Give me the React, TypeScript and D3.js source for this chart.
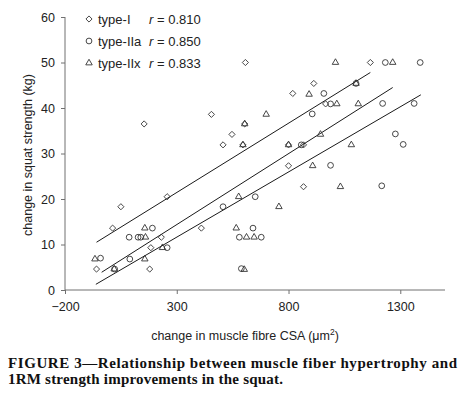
import React, { useRef, useEffect } from 'react';
import * as d3 from 'd3';

// type-I (diamonds)
const typeIX = [607, 154, 455, 604, 547, 507, 596, 257, 50, 13, 410, 231, 184, -59, 179, 913, 819, 966, 800, 867, 800, 867, 1166];
const typeIY = [50, 36.5, 38.6, 36.5, 34.2, 31.9, 31.9, 20.5, 18.3, 13.6, 13.6, 11.6, 9.3, 4.6, 4.6, 45.4, 43.2, 40.9, 31.9, 31.9, 27.3, 22.7, 50];

// type-IIa (circles)
const typeIIaX = [651, 507, 191, 641, 87, 127, 139, 580, 678, 257, -41, 90, 22, 589, 1233, 1389, 1102, 958, 988, 1221, 1362, 906, 1278, 857, 1313, 988, 1217];
const typeIIaY = [20.5, 18.3, 13.6, 13.6, 11.6, 11.6, 11.6, 11.6, 11.6, 9.3, 7.0, 6.8, 4.6, 4.7, 50, 50, 45.4, 43.2, 40.9, 41, 41, 38.7, 34.3, 31.9, 32, 27.4, 22.9];

// type-IIx (triangles)
const typeIIxX = [700, 604, 596, 577, 757, 157, 566, 160, 612, 646, 236, -66, 157, 20, 602, 1010, 1266, 1102, 892, 1016, 1112, 943, 800, 1081, 908, 1032];
const typeIIxY = [38.6, 36.5, 31.9, 20.5, 18.3, 13.6, 13.6, 11.6, 11.6, 11.6, 9.3, 6.8, 6.8, 4.6, 4.5, 50, 50, 45.4, 43, 40.9, 40.9, 34.2, 31.9, 31.9, 27.3, 22.7];

const seriesNames = ['type-I', 'type-IIa', 'type-IIx'];
const seriesR = ['0.810', '0.850', '0.833'];

// regression line ends: [type-I, type-IIa, type-IIx]
const fitX0 = [-59, -62, -36];
const fitY0 = [10.5, 1.25, 3.9];
const fitX1 = [1166, 1392, 1266];
const fitY1 = [47.8, 42.9, 44.5];

const xTicks = [-200, 300, 800, 1300];
const yTicks = [0, 10, 20, 30, 40, 50, 60];

const W = 474;
const H = 397;
const SANS = '"Liberation Sans", Arial, sans-serif';
const SERIF = '"Liberation Serif", "Times New Roman", serif';

const App: React.FC = () => {
  const svgRef = useRef<SVGSVGElement | null>(null);

  useEffect(() => {
    if (!svgRef.current) return;
    const svg = d3.select(svgRef.current);
    svg.selectAll('*').remove();

    const x = d3.scaleLinear().domain([-200, 1500]).range([65, 445]);
    const y = d3.scaleLinear().domain([0, 60]).range([290, 17]);

    const axisColor = '#707070';
    const ink = '#222';

    // axes
    const xAxis = svg.append('g')
      .attr('transform', `translate(0,${y(0)})`)
      .call(d3.axisBottom(x).tickValues(xTicks).tickSize(4).tickPadding(8).tickFormat(d => d3.format('')(d as number).replace('-', '\u2212')));
    xAxis.select('.domain').attr('stroke', axisColor).attr('d', `M${x(-200)},0H${x(1500)}`);
    xAxis.selectAll('.tick line').attr('stroke', axisColor);
    xAxis.selectAll('text').attr('fill', ink).attr('font-size', '12.5px').attr('font-family', SANS);

    const yAxis = svg.append('g')
      .attr('transform', `translate(${x(-200)},0)`)
      .call(d3.axisLeft(y).tickValues(yTicks).tickSize(4).tickPadding(6));
    yAxis.select('.domain').attr('stroke', axisColor).attr('d', `M0,${y(60)}V${y(0)}`);
    yAxis.selectAll('.tick line').attr('stroke', axisColor);
    yAxis.selectAll('text').attr('fill', ink).attr('font-size', '12.5px').attr('font-family', SANS);

    // axis titles
    const xt = svg.append('text')
      .attr('x', 245)
      .attr('y', 340)
      .attr('text-anchor', 'middle')
      .attr('fill', ink)
      .attr('font-size', '12.5px')
      .attr('font-family', SANS);
    xt.append('tspan').text('change in muscle fibre CSA (\u03bcm');
    xt.append('tspan').attr('font-size', '8.5px').attr('dy', -5).text('2');
    xt.append('tspan').attr('dy', 5).text(')');

    svg.append('text')
      .attr('transform', `translate(32,155) rotate(-90)`)
      .attr('text-anchor', 'middle')
      .attr('fill', ink)
      .attr('font-size', '12.5px')
      .attr('font-family', SANS)
      .text('change in squat strength (kg)');

    // regression lines
    seriesNames.forEach((_, i) => {
      svg.append('line')
        .attr('x1', x(fitX0[i]))
        .attr('y1', y(fitY0[i]))
        .attr('x2', x(fitX1[i]))
        .attr('y2', y(fitY1[i]))
        .attr('stroke', '#1a1a1a')
        .attr('stroke-width', 1);
    });

    // points
    const symbols = [
      d3.symbol().type(d3.symbolDiamond2).size(24),
      d3.symbol().type(d3.symbolCircle).size(26),
      d3.symbol().type(d3.symbolTriangle2).size(30),
    ];
    const xs = [typeIX, typeIIaX, typeIIxX];
    const ys = [typeIY, typeIIaY, typeIIxY];

    xs.forEach((xv, s) => {
      svg.append('g')
        .selectAll('path')
        .data(xv.map((v, i) => [v, ys[s][i]]))
        .enter()
        .append('path')
        .attr('transform', d => `translate(${x(d[0])},${y(d[1])})`)
        .attr('d', symbols[s]()!)
        .attr('fill', 'none')
        .attr('stroke', '#333')
        .attr('stroke-width', 0.9);
    });

    // legend
    const legend = svg.append('g').attr('transform', 'translate(89,19)');
    seriesNames.forEach((name, i) => {
      const row = legend.append('g').attr('transform', `translate(0,${i * 22})`);
      row.append('path')
        .attr('d', symbols[i]()!)
        .attr('fill', 'none')
        .attr('stroke', '#333')
        .attr('stroke-width', 0.9);
      row.append('text')
        .attr('x', 9)
        .attr('y', 4.5)
        .attr('fill', ink)
        .attr('font-size', '13px')
        .attr('font-family', SANS)
        .text(name);
      const r = row.append('text')
        .attr('x', 60)
        .attr('y', 4.5)
        .attr('fill', ink)
        .attr('font-size', '13px')
        .attr('font-family', SANS);
      r.append('tspan').attr('font-style', 'italic').text('r');
      r.append('tspan').text(` = ${seriesR[i]}`);
    });

    // caption
    svg.append('text')
      .attr('x', 8)
      .attr('y', 368)
      .attr('textLength', 449)
      .attr('lengthAdjust', 'spacing')
      .attr('fill', '#111')
      .attr('font-size', '15px')
      .attr('font-weight', 'bold')
      .attr('font-family', SERIF)
      .text('FIGURE 3\u2014Relationship between muscle fiber hypertrophy and');

    svg.append('text')
      .attr('x', 8)
      .attr('y', 384)
      .attr('textLength', 275)
      .attr('lengthAdjust', 'spacing')
      .attr('fill', '#111')
      .attr('font-size', '15px')
      .attr('font-weight', 'bold')
      .attr('font-family', SERIF)
      .text('1RM strength improvements in the squat.');
  }, []);

  return (
    <svg
      ref={svgRef}
      width={W}
      height={H}
      style={{ position: 'absolute', left: 0, top: 0, background: '#fff' }}
    />
  );
};

export default App;
